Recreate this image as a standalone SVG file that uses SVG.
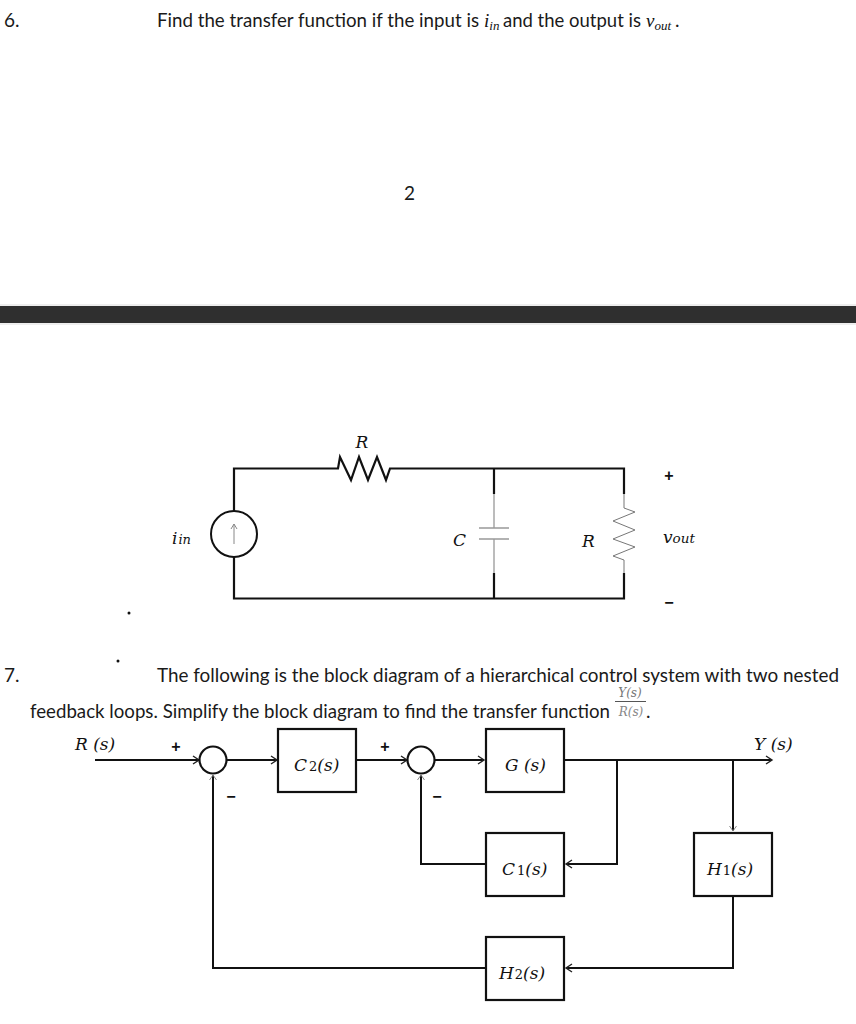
<svg xmlns="http://www.w3.org/2000/svg" width="856" height="1024" viewBox="0 0 856 1024">
<defs>
<marker id="a" markerUnits="userSpaceOnUse" markerWidth="10" markerHeight="12" refX="8" refY="5" orient="auto"><path d="M2 1L8 5L2 9" fill="none" stroke="#222" stroke-width="1.4"/></marker>
<marker id="b" markerUnits="userSpaceOnUse" markerWidth="10" markerHeight="12" refX="8" refY="5" orient="auto"><path d="M3 1.500L8 5L3 8.500" fill="none" stroke="#888" stroke-width="1"/></marker>
</defs>
<style>
.t{font-family:"Lato","Open Sans",sans-serif;font-size:19px;fill:#1a1a1a}
.m{font-family:"DejaVu Serif","Liberation Serif",serif;font-style:italic;font-size:17px;fill:#111}
.l{font-family:"Liberation Serif",serif;font-style:italic;fill:#111}
.s{font-size:13px;font-style:normal}
.w{fill:none;stroke:#111;stroke-width:2.200}
.g{fill:none;stroke:#999;stroke-width:1.300}
.box{fill:#fff;stroke:#111;stroke-width:2.200}
.c{fill:none;stroke:#111;stroke-width:2}
.sm{font-family:"Liberation Sans",sans-serif;font-size:16px;font-weight:bold;fill:#111}
</style>
<rect width="856" height="1024" fill="#fff"/>
<g id="text">
<text class="t" x="4" y="27">6.</text>
<text class="t" x="157" y="27" textLength="322" lengthAdjust="spacingAndGlyphs">Find the transfer function if the input is</text>
<text class="l" x="484" y="27" font-size="19">i<tspan font-size="13" dy="3">in</tspan></text>
<text class="t" x="503" y="27" textLength="138" lengthAdjust="spacingAndGlyphs">and the output is</text>
<text class="l" x="646" y="27" font-size="19">v<tspan font-size="13" dy="3">out</tspan></text>
<text class="t" x="675" y="27">.</text>
<text class="t" x="404" y="200">2</text>
<text class="t" x="4" y="682">7.</text>
<text class="t" x="157" y="682" textLength="682" lengthAdjust="spacingAndGlyphs">The following is the block diagram of a hierarchical control system with two nested</text>
<text class="t" x="30" y="718" textLength="580" lengthAdjust="spacingAndGlyphs">feedback loops. Simplify the block diagram to find the transfer function</text>
<text x="630" y="697" text-anchor="middle" font-family="DejaVu Serif" font-style="italic" font-size="12" fill="#777">Y(s)</text>
<text x="631" y="716" text-anchor="middle" font-family="DejaVu Serif" font-style="italic" font-size="12" fill="#888">R(s)</text>
<path d="M615 701.500H646" stroke="#555" stroke-width="1"/>
<text class="t" x="646" y="718">.</text>
</g>
<g id="divider">
<rect y="304" width="856" height="21" fill="#eee"/>
<rect y="306" width="856" height="17" fill="#2f2f2f"/>
</g>
<g id="circuit">
<path class="w" d="M234 512V468.500H338L340 457L351 480L359 457L368 480L377 457L386 480L390 468.500H624V494M234 557V598.500H624V573M494 468.500V494M494 573V598.500"/>
<path class="g" d="M494 494V528M494 539V573M479 528H509M479 539H509"/>
<path d="M624 494V508L635 512L613 521L635 530L613 539L635 547L613 556L624 560V573" fill="none" stroke="#777" stroke-width="1"/>
<circle cx="234" cy="534" r="23" fill="none" stroke="#111" stroke-width="2"/>
<path d="M234 544V524M231 529L234 524L237 529" fill="none" stroke="#888" stroke-width="1"/>
<text class="m" x="362" y="448" text-anchor="middle" font-size="18">R</text>
<text class="m" x="172" y="544" font-size="19">i<tspan font-size="13" dx="1">in</tspan></text>
<text class="m" x="453" y="546" font-size="18">C</text>
<text class="m" x="582" y="547" font-size="18">R</text>
<text class="m" x="663" y="543" font-size="18">v<tspan font-size="13.500">out</tspan></text>
<text class="sm" x="669" y="481" text-anchor="middle">+</text>
<text class="sm" x="669" y="608" text-anchor="middle">−</text>
</g>
<g id="connectors">
<path class="c" d="M95 760H199" marker-end="url(#a)"/>
<path class="c" d="M227 760H277" marker-end="url(#a)"/>
<path class="c" d="M357 760H407" marker-end="url(#a)"/>
<path class="c" d="M435 760H484" marker-end="url(#a)"/>
<path class="c" d="M564 760H772" marker-end="url(#a)"/>
<path class="c" d="M617 760V864H566" marker-end="url(#a)"/>
<path class="c" d="M733 760V831" marker-end="url(#b)"/>
<path class="c" d="M733 895V968H566" marker-end="url(#a)"/>
<path class="c" d="M486 864H421V775" marker-end="url(#b)"/>
<path class="c" d="M486 968H213V775" marker-end="url(#b)"/>
</g>
<g id="sum1"><circle cx="213" cy="760" r="13.500" class="box"/><text class="sm" x="176" y="752" text-anchor="middle">+</text><text class="sm" x="231" y="802" text-anchor="middle">−</text></g>
<g id="sum2"><circle cx="421" cy="760" r="13.500" class="box"/><text class="sm" x="385" y="752" text-anchor="middle">+</text><text class="sm" x="437" y="802" text-anchor="middle">−</text></g>
<g id="C2"><rect class="box" x="278" y="729" width="78" height="63"/><text class="m" x="294" y="771">C<tspan class="s" dx="2">2</tspan>(s)</text></g>
<g id="G"><rect class="box" x="486" y="729" width="78" height="63"/><text class="m" x="505" y="771">G (s)</text></g>
<g id="C1"><rect class="box" x="486" y="833" width="78" height="63"/><text class="m" x="502" y="875">C<tspan class="s" dx="2">1</tspan>(s)</text></g>
<g id="H1"><rect class="box" x="694" y="833" width="78" height="63"/><text class="m" x="707" y="875">H<tspan class="s" dx="1">1</tspan>(s)</text></g>
<g id="H2"><rect class="box" x="486" y="937" width="78" height="63"/><text class="m" x="499" y="979">H<tspan class="s" dx="1">2</tspan>(s)</text></g>
<g id="labels">
<text class="m" x="75" y="750">R (s)</text>
<text class="m" x="754" y="750">Y (s)</text>
<circle cx="129" cy="613" r="1.500" fill="#111"/>
<circle cx="118" cy="661" r="1.500" fill="#111"/>
</g>
</svg>
